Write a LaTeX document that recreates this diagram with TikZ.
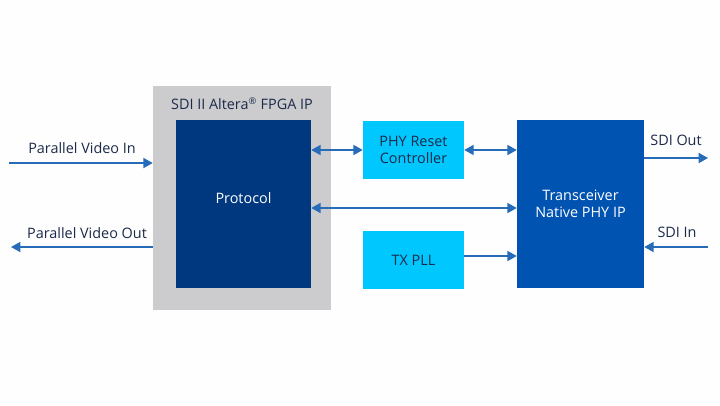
\documentclass[tikz,border=0pt]{standalone}
\usepackage{fontspec}
\setmainfont{Open Sans}
\usetikzlibrary{arrows.meta}

\definecolor{ipgray}{RGB}{204,204,206}
\definecolor{protoblue}{RGB}{0,56,128}
\definecolor{xcvrblue}{RGB}{0,83,176}
\definecolor{ipcyan}{RGB}{0,199,253}
\definecolor{linkblue}{RGB}{38,108,184}
\definecolor{labelnavy}{RGB}{28,42,74}

\tikzset{
  blk/.style={rectangle, inner sep=0pt, align=center, font=\fontsize{10.8}{14}\selectfont},
  lbl/.style={text=labelnavy, inner sep=1pt, font=\fontsize{10.8}{14}\selectfont},
  link/.style={draw=linkblue, line width=1.2pt, -{Triangle[length=7pt,width=7.5pt]}},
  dlink/.style={draw=linkblue, line width=1.2pt, {Triangle[length=7pt,width=7.5pt]}-{Triangle[length=7pt,width=7.5pt]}}
}

\begin{document}
\begin{tikzpicture}[x=0.75pt,y=0.75pt,yscale=-1,xscale=1]
%set diagram left start at 0, and has height of 405
\useasboundingbox[fill=white!99!gray] (0,0) rectangle (720,405);

%Shape: Rectangle [id:ipcore]
\node[blk, fill=ipgray, minimum width=133.5pt, minimum height=168pt] (sdi) at (242,198) {};
%Shape: Rectangle [id:protocol]
\node[blk, fill=protoblue, minimum width=101.25pt, minimum height=126pt] (proto) at (243.5,204) {};
%Shape: Rectangle [id:phyreset]
\node[blk, fill=ipcyan, text=labelnavy, minimum width=75.75pt, minimum height=43.5pt] (phyrst) at (413.5,150) {PHY Reset\\[-1.5pt]Controller};
%Shape: Rectangle [id:txpll]
\node[blk, fill=ipcyan, text=labelnavy, minimum width=75.75pt, minimum height=43.5pt] (txpll) at (413.5,260) {TX PLL};
%Shape: Rectangle [id:transceiver]
\node[blk, fill=xcvrblue, text=white, minimum width=95.25pt, minimum height=126pt] (xcvr) at (580.5,204) {Transceiver\\[-1.5pt]Native PHY IP};

% Text Node
\node[lbl] (sdititle) at (242,104) {SDI II Altera\textsuperscript{\scriptsize ®} FPGA IP};
% Text Node
\node[lbl, text=white] (prottext) at (243.5,198) {Protocol};
% Text Node
\node[lbl] (pvintext) at (82,148) {Parallel Video In};
% Text Node
\node[lbl] (pvouttext) at (87,233) {Parallel Video Out};
% Text Node
\node[lbl] (sdiotext) at (676,140) {SDI Out};
% Text Node
\node[lbl] (sdiitext) at (677,232) {SDI In};

%free ends and rows of the connectors
\coordinate (pvin) at (9,163);
\coordinate (pvout) at (11,247);
\coordinate (sdio) at (708,158);
\coordinate (sdii) at (708,247);
\coordinate (datarow) at (0,208);
\coordinate (pllrow) at (0,256);

%Straight Lines
\draw[link] (pvin) -- (pvin -| sdi.west);
\draw[link] (pvout -| sdi.west) -- (pvout);
\draw[dlink] (proto.east |- phyrst) -- (phyrst.west);
\draw[dlink] (phyrst.east) -- (phyrst.east -| xcvr.west);
\draw[dlink] (proto.east |- datarow) -- (xcvr.west |- datarow);
\draw[link] (txpll.east |- pllrow) -- (xcvr.west |- pllrow);
\draw[link] (xcvr.east |- sdio) -- (sdio);
\draw[link] (sdii) -- (xcvr.east |- sdii);

\end{tikzpicture}
\end{document}
